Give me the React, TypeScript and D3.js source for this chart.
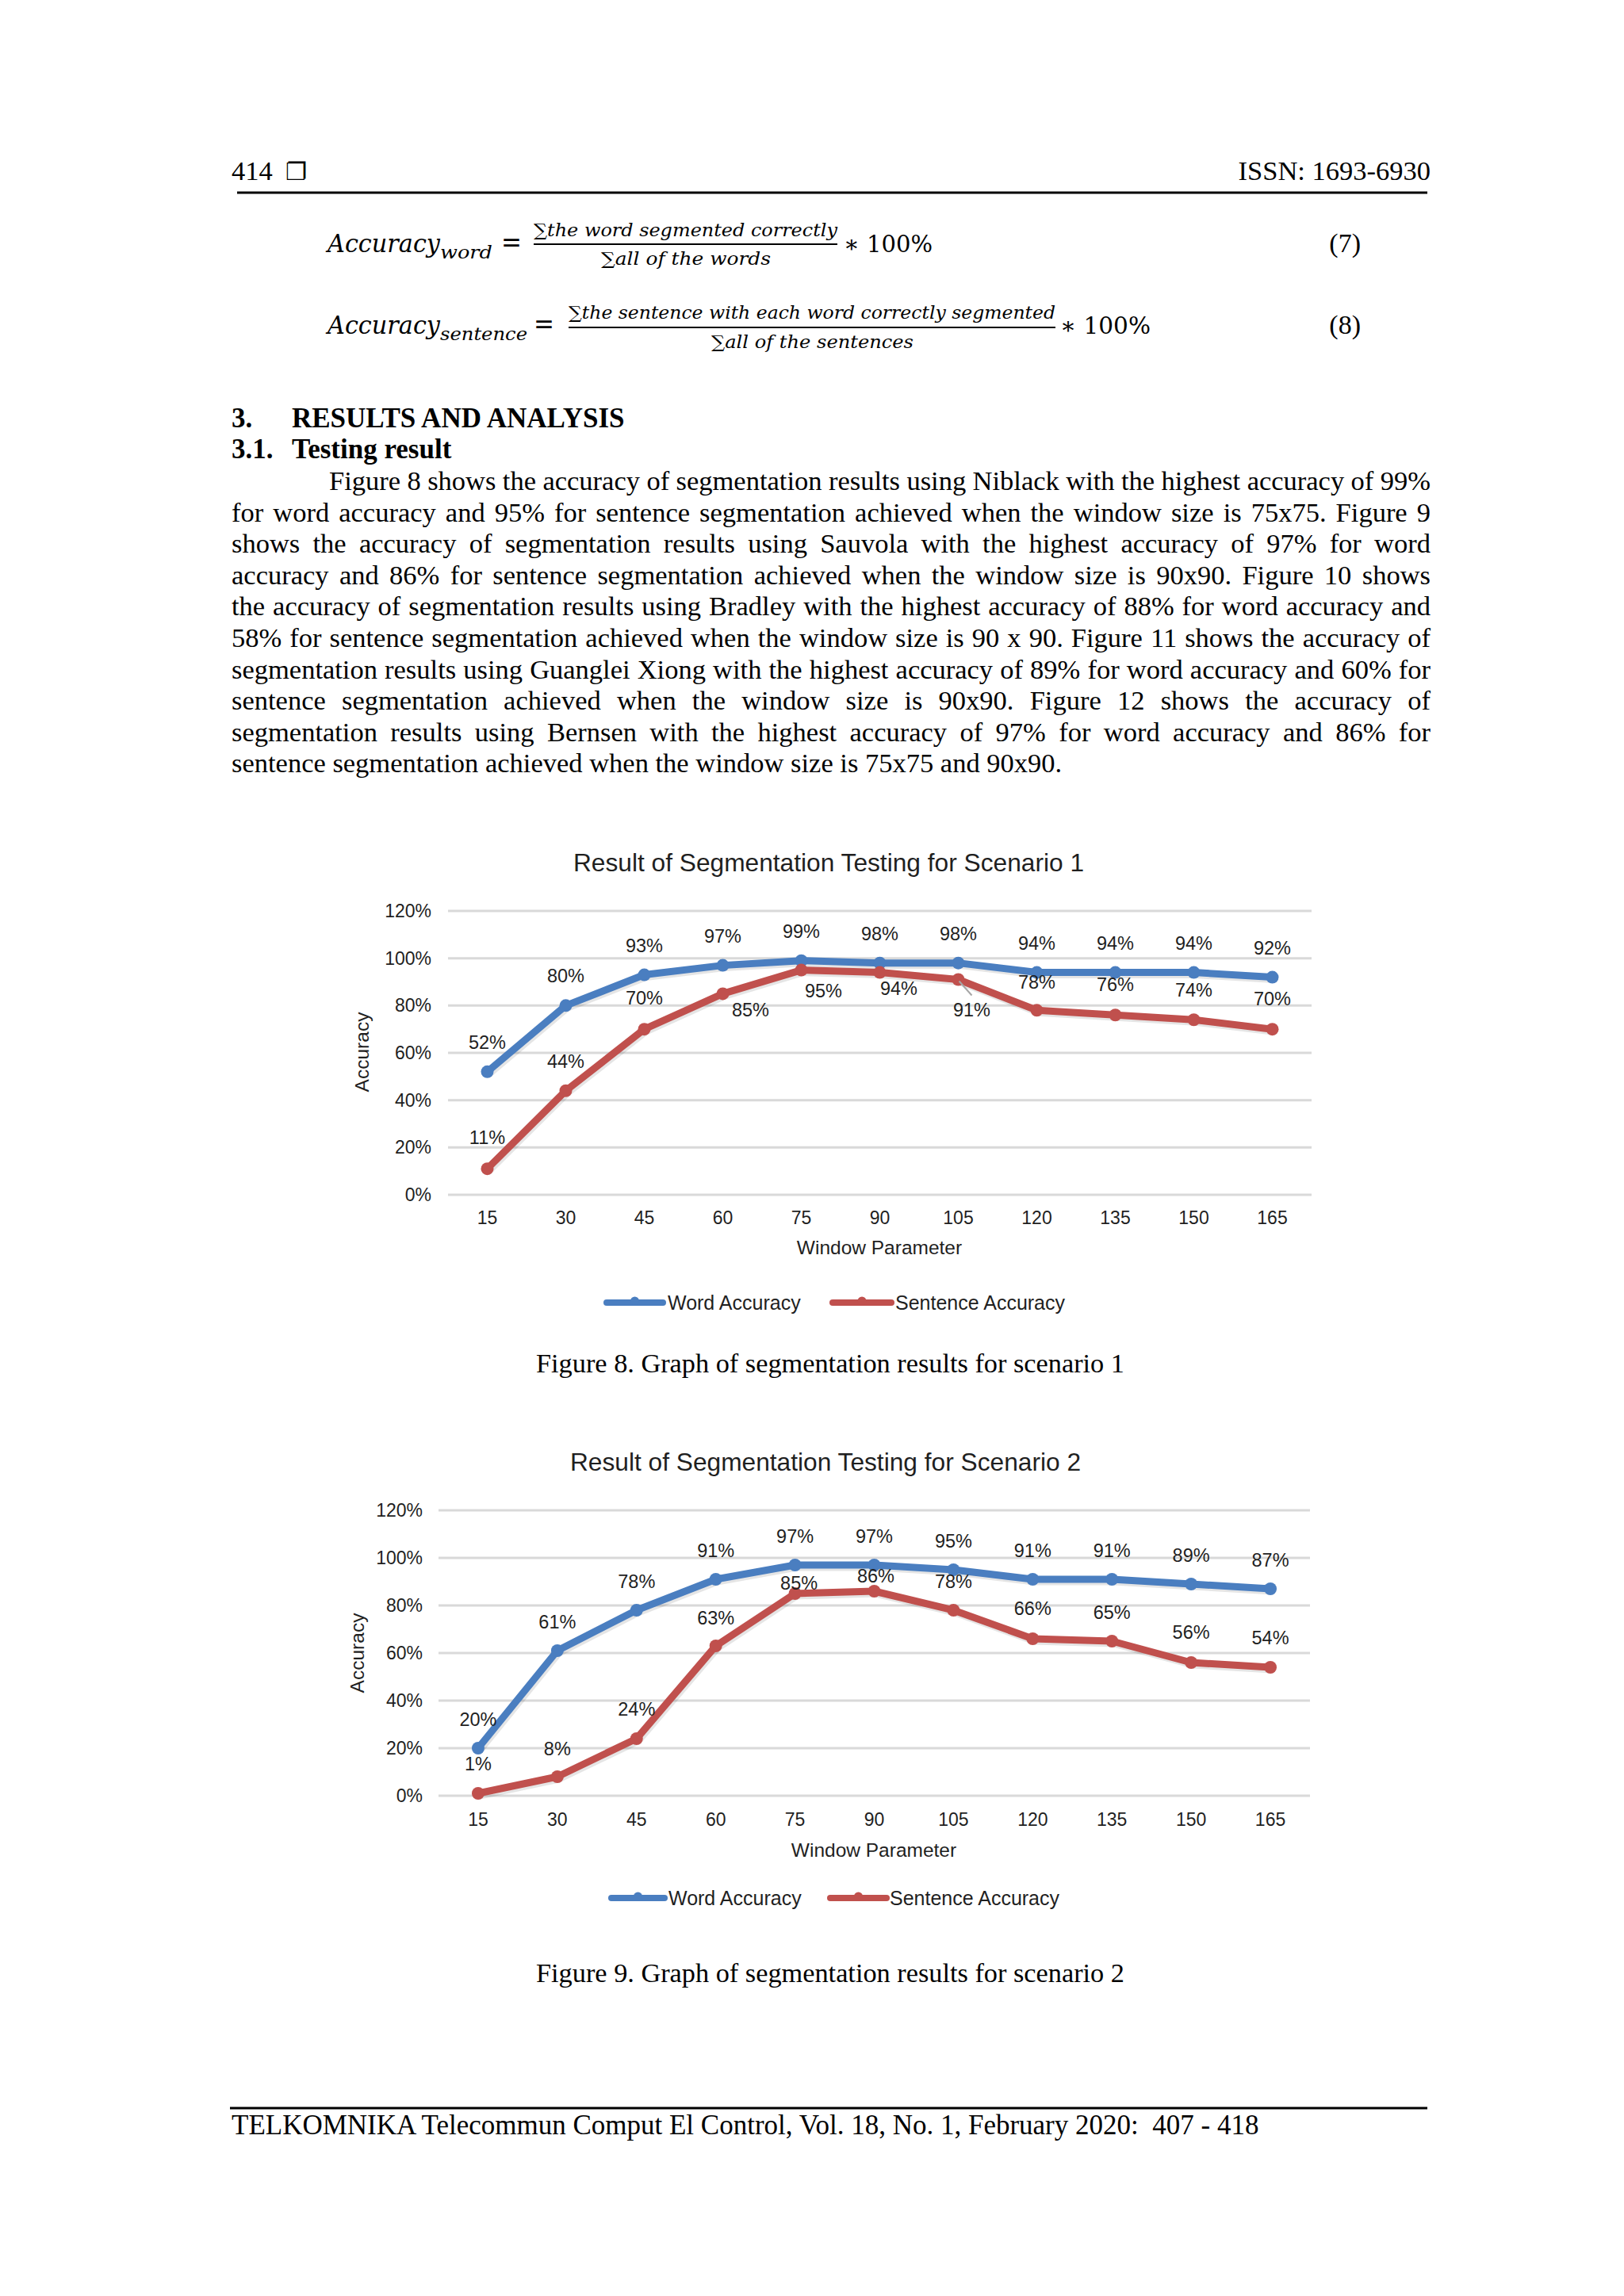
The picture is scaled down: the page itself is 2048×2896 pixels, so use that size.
import React, { useMemo } from 'react';
import * as d3 from 'd3';

// ---------------- data ----------------
const categories = ['15', '30', '45', '60', '75', '90', '105', '120', '135', '150', '165'];
const yTicks = [0, 20, 40, 60, 80, 100, 120];
const seriesNames = ['Word Accuracy', 'Sentence Accuracy'];

const s1Word = [52, 80, 93, 97, 99, 98, 98, 94, 94, 94, 92];
const s1Sentence = [11, 44, 70, 85, 95, 94, 91, 78, 76, 74, 70];
const s2Word = [20, 61, 78, 91, 97, 97, 95, 91, 91, 89, 87];
const s2Sentence = [1, 8, 24, 63, 85, 86, 78, 66, 65, 56, 54];

const title1 = 'Result of Segmentation Testing for Scenario 1';
const title2 = 'Result of Segmentation Testing for Scenario 2';
const caption1 = 'Figure 8. Graph of segmentation results for scenario 1';
const caption2 = 'Figure 9. Graph of segmentation results for scenario 2';
const xTitle = 'Window Parameter';
const yTitle = 'Accuracy';

const paragraphLines = [
  'Figure 8 shows the accuracy of segmentation results using Niblack with the highest accuracy of 99%',
  'for word accuracy and 95% for sentence segmentation achieved when the window size is 75x75. Figure 9',
  'shows the accuracy of segmentation results using Sauvola with the highest accuracy of 97% for word',
  'accuracy and 86% for sentence segmentation achieved when the window size is 90x90. Figure 10 shows',
  'the accuracy of segmentation results using Bradley with the highest accuracy of 88% for word accuracy and',
  '58% for sentence segmentation achieved when the window size is 90 x 90. Figure 11 shows the accuracy of',
  'segmentation results using Guanglei Xiong with the highest accuracy of 89% for word accuracy and 60% for',
  'sentence segmentation achieved when the window size is 90x90. Figure 12 shows the accuracy of',
  'segmentation results using Bernsen with the highest accuracy of 97% for word accuracy and 86% for',
  'sentence segmentation achieved when the window size is 75x75 and 90x90.',
];

// ---------------- label layout (offsets from point, px) ----------------
const s1WordOffsets = categories.map(() => [0, -37]);
const s1SentOffsets = [[0, -39], [0, -37], [0, -39], [35, 21], [28, 26], [24, 20], [17, 38], [0, -35], [0, -38], [0, -37], [0, -38]];
const s1SentLeader = [false, false, false, false, false, false, true, false, false, false, false];
const s2WordOffsets = categories.map(() => [0, -36]);
const s2SentOffsets = [[0, -37], [0, -35], [0, -37], [0, -35], [5, -13], [2, -19], [0, -36], [0, -38], [0, -36], [0, -38], [0, -37]];
const s2SentLeader = categories.map(() => false);

const BLUE = '#4A7EC0';
const RED = '#C0504D';
const GRID = '#D9D9D9';
const INK = '#1F1F1F';
const SANS = "'Liberation Sans', Arial, sans-serif";
const SERIF = "'Liberation Serif', 'Times New Roman', serif";
const MATH = "'DejaVu Serif', serif";

let _ctx: CanvasRenderingContext2D | null = null;
function measure(text: string, font: string) {
  if (!_ctx) _ctx = document.createElement('canvas').getContext('2d');
  _ctx!.font = font;
  return _ctx!.measureText(text).width;
}

function JustifiedLine({ text, x0, x1, y, size, justify }: any) {
  const font = `${size}px 'Liberation Serif'`;
  const words = text.split(' ');
  const widths = words.map((w: string) => measure(w, font));
  const total = d3.sum(widths);
  const gap = justify ? (x1 - x0 - total) / (words.length - 1) : measure(' ', font);
  let cx = x0;
  const xs = widths.map((w: number) => {
    const v = cx;
    cx += w + gap;
    return v;
  });
  return (
    <g>
      {words.map((w: string, i: number) => (
        <text key={i} x={xs[i]} y={y} fontFamily={SERIF} fontSize={size} fill="#000">
          {w}
        </text>
      ))}
    </g>
  );
}

function Chart({ cfg }: any) {
  const x = d3.scalePoint<string>().domain(categories).range([cfg.left, cfg.right]).padding(0.5);
  const y = d3.scaleLinear().domain([0, 120]).range([cfg.bottom, cfg.top]);
  const line = d3
    .line<number>()
    .x((_, i) => x(categories[i]) as number)
    .y((d) => y(d));
  const series = [
    { name: seriesNames[0], values: cfg.word, color: BLUE, offsets: cfg.wordOffsets, leaders: categories.map(() => false) },
    { name: seriesNames[1], values: cfg.sent, color: RED, offsets: cfg.sentOffsets, leaders: cfg.sentLeaders },
  ];
  return (
    <g>
      <text x={cfg.titleX} y={cfg.titleY} textAnchor="middle" dominantBaseline="central" fontFamily={SANS} fontSize={31.7} fill={INK}>
        {cfg.title}
      </text>
      {yTicks.map((t) => (
        <g key={t}>
          <line x1={cfg.left} x2={cfg.right} y1={y(t)} y2={y(t)} stroke={GRID} strokeWidth={3} />
          <text x={cfg.tickRight} y={y(t)} textAnchor="end" dominantBaseline="central" fontFamily={SANS} fontSize={23} fill={INK}>
            {t}%
          </text>
        </g>
      ))}
      {categories.map((c) => (
        <text key={c} x={x(c)} y={cfg.xTickY} textAnchor="middle" dominantBaseline="central" fontFamily={SANS} fontSize={23} fill={INK}>
          {c}
        </text>
      ))}
      <text x={cfg.xTitleX} y={cfg.xTitleY} textAnchor="middle" dominantBaseline="central" fontFamily={SANS} fontSize={24.5} fill={INK}>
        {xTitle}
      </text>
      <text
        transform={`translate(${cfg.yTitleX},${cfg.yTitleY}) rotate(-90)`}
        textAnchor="middle"
        dominantBaseline="central"
        fontFamily={SANS}
        fontSize={24.5}
        fill={INK}
      >
        {yTitle}
      </text>
      {series.map((s) => (
        <g key={s.name}>
          <path d={line(s.values) as string} fill="none" stroke="#000" strokeOpacity={0.1} strokeWidth={9} transform="translate(2,3)" strokeLinejoin="round" strokeLinecap="round" />
          <path d={line(s.values) as string} fill="none" stroke={s.color} strokeWidth={9} strokeLinejoin="round" strokeLinecap="round" />
          {s.values.map((v: number, i: number) => (
            <circle key={i} cx={x(categories[i])} cy={y(v)} r={8} fill={s.color} />
          ))}
        </g>
      ))}
      {series.map((s) => (
        <g key={s.name + 'l'}>
          {s.values.map((v: number, i: number) => {
            const px = x(categories[i]) as number;
            const py = y(v);
            const [dx, dy] = s.offsets[i];
            return (
              <g key={i}>
                {s.leaders[i] && <line x1={px + 1} y1={py + 2} x2={px + dx} y2={py + dy - 18} stroke="#A6A6A6" strokeWidth={2} />}
                <text x={px + dx} y={py + dy} textAnchor="middle" dominantBaseline="central" fontFamily={SANS} fontSize={23.5} fill={INK}>
                  {v}%
                </text>
              </g>
            );
          })}
        </g>
      ))}
      {series.map((s, i) => (
        <g key={s.name + 'leg'}>
          <line x1={cfg.legend[i][0]} x2={cfg.legend[i][1]} y1={cfg.legendY} y2={cfg.legendY} stroke={s.color} strokeWidth={8} strokeLinecap="round" />
          <circle cx={(cfg.legend[i][0] + cfg.legend[i][1]) / 2} cy={cfg.legendY - 2} r={5.5} fill={s.color} />
          <text x={cfg.legend[i][2]} y={cfg.legendY} dominantBaseline="central" fontFamily={SANS} fontSize={25} fill={INK}>
            {s.name}
          </text>
        </g>
      ))}
      <text x={cfg.captionX} y={cfg.captionY} textAnchor="middle" fontFamily={SERIF} fontSize={34.3} fill="#000">
        {cfg.caption}
      </text>
    </g>
  );
}

const chart1 = {
  title: title1, caption: caption1, word: s1Word, sent: s1Sentence,
  wordOffsets: s1WordOffsets, sentOffsets: s1SentOffsets, sentLeaders: s1SentLeader,
  left: 565, right: 1654, bottom: 1507, top: 1149,
  titleX: 1045, titleY: 1088, tickRight: 544, xTickY: 1536, xTitleX: 1109, xTitleY: 1573,
  yTitleX: 456, yTitleY: 1327, legendY: 1643, legend: [[765, 836, 842], [1050, 1124, 1129]],
  captionX: 1047, captionY: 1731,
};
const chart2 = {
  title: title2, caption: caption2, word: s2Word, sent: s2Sentence,
  wordOffsets: s2WordOffsets, sentOffsets: s2SentOffsets, sentLeaders: s2SentLeader,
  left: 553, right: 1652, bottom: 2265, top: 1905,
  titleX: 1041, titleY: 1844, tickRight: 533, xTickY: 2295, xTitleX: 1102, xTitleY: 2333,
  yTitleX: 450, yTitleY: 2085, legendY: 2394, legend: [[771, 838, 843], [1047, 1118, 1122]],
  captionX: 1047, captionY: 2500,
};

function Formula({ f }: any) {
  return (
    <g>
      <text x={f.ax} y={f.base} fontFamily={MATH} fontStyle="italic" fontSize={31} textLength={f.aw} lengthAdjust="spacingAndGlyphs">Accuracy</text>
      <text x={f.sx} y={f.base + 8} fontFamily={MATH} fontStyle="italic" fontSize={22} textLength={f.sw} lengthAdjust="spacingAndGlyphs">{f.sub}</text>
      <text x={f.eqx} y={f.base - 1} fontFamily={MATH} fontSize={34} textLength={26} lengthAdjust="spacingAndGlyphs">=</text>
      <text x={f.nx} y={f.nb} fontFamily={MATH} fontStyle="italic" fontSize={22} textLength={f.nw} lengthAdjust="spacingAndGlyphs">{f.num}</text>
      <line x1={f.nx} x2={f.nx + f.nw} y1={f.bar} y2={f.bar} stroke="#000" strokeWidth={2} />
      <text x={f.dx} y={f.db} fontFamily={MATH} fontStyle="italic" fontSize={22} textLength={f.dw} lengthAdjust="spacingAndGlyphs">{f.den}</text>
      <text x={f.px} y={f.base} fontFamily={MATH} fontSize={30} textLength={f.pw} lengthAdjust="spacingAndGlyphs">∗ 100%</text>
      <text x={1716} y={f.base} textAnchor="end" fontFamily={SERIF} fontSize={34}>{f.no}</text>
    </g>
  );
}

const formula7 = {
  sub: 'word', num: '∑the word segmented correctly', den: '∑all of the words', no: '(7)',
  ax: 413, aw: 142, sx: 555, sw: 66, eqx: 632, base: 318,
  nx: 673, nw: 383, nb: 298, bar: 308, dx: 758, dw: 214, db: 334, px: 1064, pw: 112,
};
const formula8 = {
  sub: 'sentence', num: '∑the sentence with each word correctly segmented', den: '∑all of the sentences', no: '(8)',
  ax: 413, aw: 142, sx: 555, sw: 110, eqx: 673, base: 421,
  nx: 717, nw: 614, nb: 402, bar: 413, dx: 897, dw: 255, db: 439, px: 1337, pw: 114,
};

export default function App() {
  const W = 2048;
  const H = 2896;
  const body = useMemo(() => paragraphLines, []);
  return (
    <svg width={W} height={H} viewBox={`0 0 ${W} ${H}`} style={{ position: 'absolute', left: 0, top: 0, background: '#fff' }}>
      <rect width={W} height={H} fill="#fff" />
      {/* header */}
      <text x={292} y={227} fontFamily={SERIF} fontSize={34.5}>414</text>
      <text x={360} y={227} fontFamily="'DejaVu Sans'" fontSize={30}>❐</text>
      <text x={1804} y={227} textAnchor="end" fontFamily={SERIF} fontSize={34.5}>ISSN: 1693-6930</text>
      <line x1={299} x2={1800} y1={243} y2={243} stroke="#000" strokeWidth={3} />

      <Formula f={formula7} />
      <Formula f={formula8} />

      {/* section */}
      <text x={292} y={539} fontFamily={SERIF} fontWeight="bold" fontSize={35}>3.</text>
      <text x={368} y={539} fontFamily={SERIF} fontWeight="bold" fontSize={35}>RESULTS AND ANALYSIS</text>
      <text x={292} y={578} fontFamily={SERIF} fontWeight="bold" fontSize={35}>3.1.</text>
      <text x={368} y={578} fontFamily={SERIF} fontWeight="bold" fontSize={35}>Testing result</text>
      {body.map((l, i) => (
        <JustifiedLine key={i} text={l} x0={i === 0 ? 415 : 292} x1={1804} y={618 + i * 39.6} size={34.5} justify={i < body.length - 1} />
      ))}

      <Chart cfg={chart1} />
      <Chart cfg={chart2} />

      {/* footer */}
      <line x1={290} x2={1800} y1={2659} y2={2659} stroke="#000" strokeWidth={3} />
      <text x={292} y={2692} fontFamily={SERIF} fontSize={35} style={{ whiteSpace: 'pre' }}>{'TELKOMNIKA Telecommun Comput El Control, Vol. 18, No. 1, February 2020:  407 - 418'}</text>
    </svg>
  );
}
